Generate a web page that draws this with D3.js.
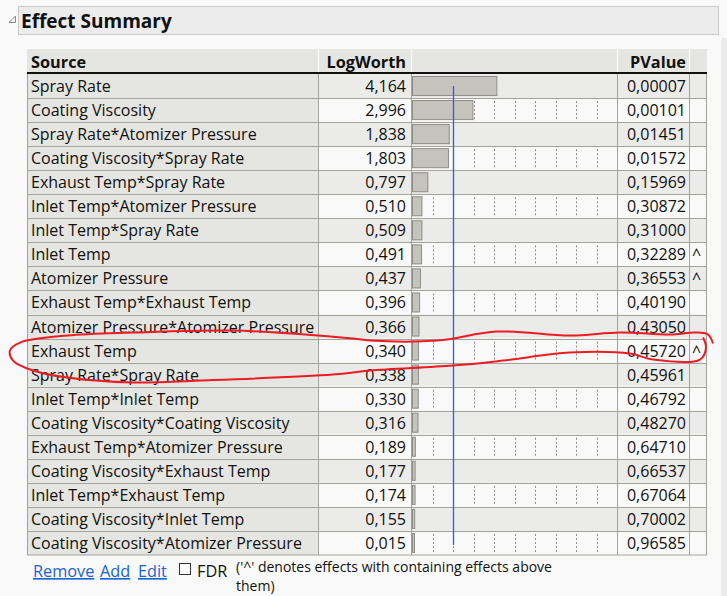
<!DOCTYPE html>
<html><head><meta charset="utf-8">
<script src="https://cdn.jsdelivr.net/npm/d3@7"></script>
<style>
html,body{margin:0;padding:0;background:#f9f9f9;}
svg{display:block;font-family:"Open Sans",sans-serif;}
</style></head>
<body>
<svg id="c" width="727" height="596"></svg>
<script>
const sources = ["Spray Rate","Coating Viscosity","Spray Rate*Atomizer Pressure","Coating Viscosity*Spray Rate","Exhaust Temp*Spray Rate","Inlet Temp*Atomizer Pressure","Inlet Temp*Spray Rate","Inlet Temp","Atomizer Pressure","Exhaust Temp*Exhaust Temp","Atomizer Pressure*Atomizer Pressure","Exhaust Temp","Spray Rate*Spray Rate","Inlet Temp*Inlet Temp","Coating Viscosity*Coating Viscosity","Exhaust Temp*Atomizer Pressure","Coating Viscosity*Exhaust Temp","Inlet Temp*Exhaust Temp","Coating Viscosity*Inlet Temp","Coating Viscosity*Atomizer Pressure"];
const logWorth = [4.164,2.996,1.838,1.803,0.797,0.510,0.509,0.491,0.437,0.396,0.366,0.340,0.338,0.330,0.316,0.189,0.177,0.174,0.155,0.015];
const pValues = ["0,00007","0,00101","0,01451","0,01572","0,15969","0,30872","0,31000","0,32289","0,36553","0,40190","0,43050","0,45720","0,45961","0,46792","0,48270","0,64710","0,66537","0,67064","0,70002","0,96585"];
const carets = [7,8,11];
const axisTicks = [1,2,3,4,5,6,7,8,9];
const refLine = 2;

const svg = d3.select("#c");
const fmt = v => v.toFixed(3).replace(".", ",");
const FS = 16;

// column edges
const cx = [27, 318, 411, 617, 689, 707];
const x = d3.scaleLinear().domain([0,10]).range([412, 617]);
const y = d3.scaleBand().domain(d3.range(sources.length)).range([74, 555]);
const rh = y.bandwidth();
const gridC = "#a3a39c";

// outline header
svg.append("rect").attr("x",18.5).attr("y",6.5).attr("width",700).attr("height",28)
  .attr("fill","#ececec").attr("stroke","#c9c9c9");
svg.append("path").attr("d","M9,22.5 L15.5,22.5 L15.5,16 Z").attr("fill","none").attr("stroke","#888").attr("stroke-width",1);
svg.append("text").attr("x",21).attr("y",28).attr("font-size",19).attr("font-weight","bold").attr("fill","#111").text("Effect Summary");

// scrollbar strip
svg.append("rect").attr("x",721).attr("y",38).attr("width",6).attr("height",558).attr("fill","#ebebeb");

// header row
svg.append("rect").attr("x",cx[0]).attr("y",49).attr("width",cx[5]-cx[0]).attr("height",24).attr("fill","#e5e5e1");
[cx[1],cx[2],cx[3],cx[4]].forEach(v=>svg.append("line").attr("x1",v+0.5).attr("x2",v+0.5).attr("y1",49).attr("y2",73).attr("stroke","#f7f7f5").attr("stroke-width",1.5));
const hdr = svg.append("g").attr("font-size",16.3).attr("font-weight","bold").attr("fill","#111");
hdr.append("text").attr("x",31).attr("y",67.5).text("Source");
hdr.append("text").attr("x",406).attr("y",67.5).attr("text-anchor","end").text("LogWorth");
hdr.append("text").attr("x",686).attr("y",67.5).attr("text-anchor","end").text("PValue");

// rows
const rows = svg.append("g").selectAll("g").data(sources).join("g")
  .attr("transform",(d,i)=>`translate(0,${y(i)})`);
rows.append("rect").attr("x",cx[0]).attr("width",cx[1]-cx[0]).attr("height",rh).attr("fill","#e5e5e1");
rows.append("rect").attr("x",cx[1]).attr("width",cx[5]-cx[1]).attr("height",rh)
  .attr("fill",(d,i)=> i%2===0 ? "#ebebe9" : "#f9f9f9");
// dotted ticks on odd rows
rows.filter((d,i)=>i%2===1).selectAll("line.tk").data(axisTicks).join("line")
  .attr("class","tk").attr("x1",t=>Math.round(x(t))+0.5).attr("x2",t=>Math.round(x(t))+0.5)
  .attr("y1",3).attr("y2",rh-3).attr("stroke","#8c8c8c").attr("stroke-dasharray","2,2");
// bars
rows.append("rect").attr("x",x(0)+0.5).attr("y",2.5)
  .attr("width",(d,i)=>Math.max(2, x(logWorth[i])-x(0)-1)).attr("height",rh-5)
  .attr("fill","#c4c4bc").attr("stroke","#8e8e86");
rows.append("text").attr("x",31).attr("y",rh/2+6).attr("font-size",FS).attr("fill","#111").text(d=>d);
rows.append("text").attr("x",406).attr("y",rh/2+6).attr("font-size",FS).attr("fill","#111").attr("text-anchor","end").text((d,i)=>fmt(logWorth[i]));
rows.append("text").attr("x",686).attr("y",rh/2+6).attr("font-size",FS).attr("fill","#111").attr("text-anchor","end").text((d,i)=>pValues[i]);
rows.filter((d,i)=>carets.includes(i)).append("text").attr("x",692).attr("y",rh/2+6).attr("font-size",16).attr("fill","#111").text("^");

// grid lines
const tbl = svg.append("g").attr("stroke",gridC).attr("stroke-width",1);
d3.range(1, sources.length).forEach(i=>tbl.append("line").attr("x1",cx[0]).attr("x2",cx[5]).attr("y1",Math.round(y(i))+0.5).attr("y2",Math.round(y(i))+0.5));
[cx[1],cx[2],cx[3],cx[4]].forEach(v=>tbl.append("line").attr("x1",v+0.5).attr("x2",v+0.5).attr("y1",74).attr("y2",555));
tbl.append("rect").attr("x",cx[0]+0.5).attr("y",73.5).attr("width",cx[5]-cx[0]-1).attr("height",555-73.5).attr("fill","none");
svg.append("line").attr("x1",cx[0]).attr("x2",cx[5]).attr("y1",73).attr("y2",73).attr("stroke","#111").attr("stroke-width",2);

// reference line
svg.append("line").attr("x1",Math.round(x(refLine))+0.5).attr("x2",Math.round(x(refLine))+0.5)
  .attr("y1",y(0)+rh/2).attr("y2",y(sources.length-1)+rh/2+2).attr("stroke","#1f5fff").attr("stroke-width",1.3);

// footer
const ft = svg.append("g").attr("font-size",16.3);
[["Remove",33],["Add",100],["Edit",138]].forEach(([t,xx])=>{
  ft.append("text").attr("x",xx).attr("y",577).attr("fill","#1a62d6").attr("text-decoration","underline").text(t);
});
svg.append("rect").attr("x",179.5).attr("y",563.5).attr("width",11).attr("height",11).attr("fill","#fff").attr("stroke","#333");
ft.append("text").attr("x",197).attr("y",577).attr("fill","#111").text("FDR");
svg.append("text").attr("x",236).attr("y",572).attr("font-size",14).attr("fill","#111").text("('^' denotes effects with containing effects above");
svg.append("text").attr("x",236).attr("y",591).attr("font-size",14).attr("fill","#111").text("them)");

// hand-drawn annotation around "Exhaust Temp" (x px, y offset from row top)
const hi = sources.indexOf("Exhaust Temp");
const annot = [[713,5],[708,-4],[695,-6],[670,-4],[620,-6],[570,-3],[497,-7],[437,2],[370,2],[353,0],[233,-8],[133,-6],[67,-3],[20,4],[10,12],[13,22],[33,32],[67,39],[133,44],[200,42],[333,36],[370,32],[453,27],[503,22],[570,14],[630,15],[653,21],[700,21],[706,9],[703,-1]];
svg.append("path").datum(annot)
  .attr("d", d3.line().x(p=>p[0]).y(p=>y(hi)+p[1]).curve(d3.curveCatmullRom))
  .attr("fill","none").attr("stroke","#ec1c24").attr("stroke-width",2);
</script>
</body></html>
